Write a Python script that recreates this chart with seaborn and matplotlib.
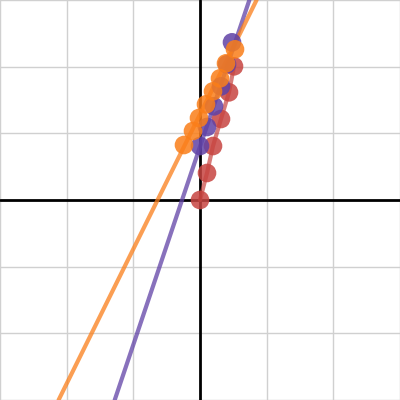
import matplotlib
matplotlib.use("Agg")
import matplotlib.pyplot as plt
import seaborn as sns

red_x = [0, 0.21, 0.39, 0.63, 0.87, 1.02]
red_y = [0, 0.81, 1.62, 2.43, 3.23, 4.01]
purple_x = [0, 0.21, 0.42, 0.63, 0.81, 0.96]
purple_y = [1.62, 2.19, 2.81, 3.41, 4.07, 4.73]
orange_x = [-0.48, -0.21, -0.03, 0.18, 0.39, 0.6, 0.78, 1.05]
orange_y = [1.65, 2.07, 2.46, 2.87, 3.26, 3.65, 4.1, 4.52]
purple_line = (1.6, 2.97)   # intercept, slope
orange_line = (2.57, 2.02)

RED, PURPLE, ORANGE = "#c74440", "#6042a6", "#fa7e19"

sns.set_style("white")
fig = plt.figure(figsize=(4, 4), dpi=100)
ax = fig.add_axes([0, 0, 1, 1])
ax.set_xlim(-6, 6)
ax.set_ylim(-6, 6)
for v in [-6, -4, -2, 2, 4, 6]:
    ax.axvline(v, color="#d0d0d0", lw=1, zorder=0)
    ax.axhline(v, color="#d0d0d0", lw=1, zorder=0)
ax.axvline(0, color="black", lw=2, zorder=1)
ax.axhline(0, color="black", lw=2, zorder=1)

ax.axline((0, purple_line[0]), slope=purple_line[1], color=PURPLE, lw=3, alpha=0.75, zorder=2)
ax.axline((0, orange_line[0]), slope=orange_line[1], color=ORANGE, lw=3, alpha=0.75, zorder=2)
ax.plot(red_x, red_y, color=RED, lw=3, alpha=0.7, zorder=2)

sns.scatterplot(x=red_x, y=red_y, color=RED, s=180, alpha=0.85, edgecolor="none", ax=ax, zorder=3)
sns.scatterplot(x=purple_x, y=purple_y, color=PURPLE, s=180, alpha=0.85, edgecolor="none", ax=ax, zorder=4)
sns.scatterplot(x=orange_x, y=orange_y, color=ORANGE, s=180, alpha=0.85, edgecolor="none", ax=ax, zorder=5)

ax.set_xticks([])
ax.set_yticks([])
for s in ax.spines.values():
    s.set_visible(False)
fig.savefig("out.png")
